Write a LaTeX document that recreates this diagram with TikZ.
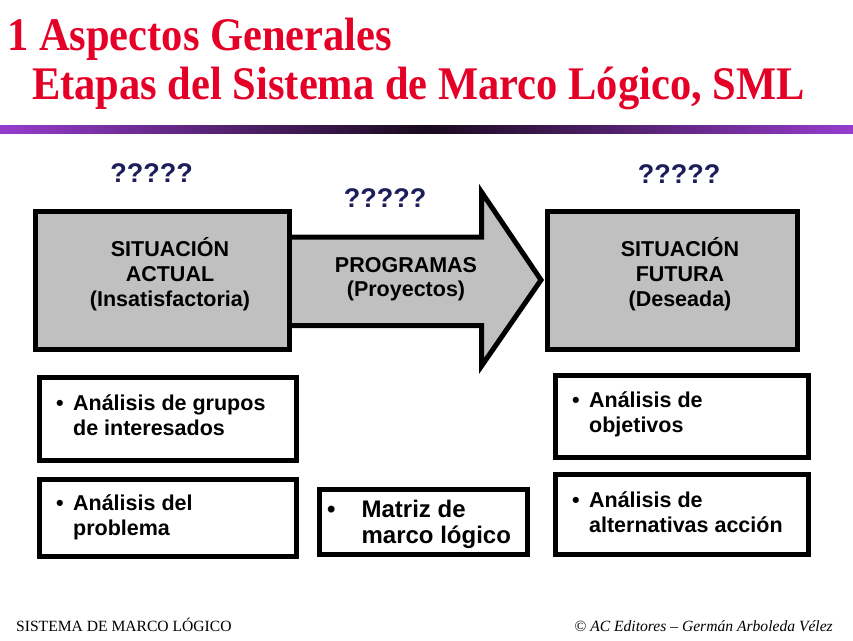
\documentclass[tikz,border=0pt]{standalone}
\usepackage{fontspec}
\setmainfont{Liberation Serif}
\setsansfont{Liberation Sans}
\usepackage{graphicx}

\definecolor{rojotit}{RGB}{228,0,38}
\definecolor{lila}{RGB}{150,60,205}
\definecolor{lilaosc}{RGB}{25,10,30}
\definecolor{gris}{RGB}{192,192,192}
\definecolor{azulq}{RGB}{28,30,90}

\newcommand{\vineta}[3][9.4pt]{%
  \begin{tabular}[t]{@{}l@{\hspace{#1}}l@{}}\textbullet & #2\\ & #3\end{tabular}}

\tikzset{
  caja gris/.style={draw, line width=5pt, fill=gris, inner sep=0pt},
  caja blanca/.style={draw, line width=5pt, fill=white, inner sep=0pt},
  texto caja/.style={font=\sffamily\bfseries\fontsize{21.5}{25}\selectfont, align=center, inner sep=0pt},
  texto lista/.style={font=\sffamily\bfseries\fontsize{21.5}{25}\selectfont, anchor=base west, inner sep=0pt},
  interrog/.style={font=\sffamily\bfseries\fontsize{27}{27}\selectfont, text=azulq, anchor=base, inner sep=0pt},
  titulo/.style={font=\bfseries\fontsize{42.5}{42.5}\selectfont, text=rojotit, anchor=base west, inner sep=0pt},
  pie/.style={font=\fontsize{15.6}{15.6}\selectfont, inner sep=0pt}
}

\begin{document}
\begin{tikzpicture}[x=1pt, y=-1pt, line join=miter]
  \useasboundingbox (0,0) rectangle (853,640);

  % titulo
  \node[titulo] (tit1) at (7,50) {\scalebox{1}[1.1]{1 Aspectos Generales}};
  \node[titulo] (tit2) at (32,99) {\scalebox{1}[1.1]{Etapas del Sistema de Marco Lógico, SML}};
  \shade[left color=lila, right color=lila, middle color=lilaosc] (0,125) rectangle (853,133);

  % flecha de programas
  \draw[line width=5pt, fill=gris] (289,237) -- (481.5,237) -- (481.5,192) -- (541,280)
    -- (481.5,366) -- (481.5,325.5) -- (289,325.5) -- cycle;
  \node[texto caja, font=\sffamily\bfseries\fontsize{21.5}{24}\selectfont] (prog) at (406,279)
    {PROGRAMAS\\(Proyectos)};

  % situaciones
  \node[caja gris, minimum width=254pt, minimum height=138pt] (actual) at (162.5,280) {};
  \node[texto caja] (actualtxt) at (170,274.5) {SITUACIÓN\\ACTUAL\\(Insatisfactoria)};
  \node[caja gris, minimum width=250pt, minimum height=138pt] (futura) at (672.5,280.5) {};
  \node[texto caja] (futuratxt) at (680,274.5) {SITUACIÓN\\FUTURA\\(Deseada)};

  \node[interrog] (qa) at (151.5,182) {?????};
  \node[interrog] (qp) at (385,207) {?????};
  \node[interrog] (qf) at (679,183) {?????};

  % etapas
  \node[caja blanca, minimum width=257pt, minimum height=83pt] (grupos) at (168,419) {};
  \node[texto lista] (grupostxt) at (56,410) {\vineta{Análisis de grupos}{de interesados}};
  \node[caja blanca, minimum width=257pt, minimum height=77pt] (problema) at (168,518) {};
  \node[texto lista] (problematxt) at (56,510) {\vineta{Análisis del}{problema}};

  \node[caja blanca, minimum width=208pt, minimum height=65pt] (matriz) at (423.5,522) {};
  \node[texto lista, font=\sffamily\bfseries\fontsize{24}{26}\selectfont] (matriztxt) at (327,517)
    {\vineta[26pt]{Matriz de}{marco lógico}};

  \node[caja blanca, minimum width=253pt, minimum height=82pt] (objetivos) at (682,416.5) {};
  \node[texto lista] (objetivostxt) at (572,407) {\vineta{Análisis de}{objetivos}};
  \node[caja blanca, minimum width=253pt, minimum height=80pt] (alternativas) at (682,514.5) {};
  \node[texto lista] (alternativastxt) at (572,507) {\vineta{Análisis de}{alternativas acción}};

  % pie
  \node[pie, anchor=base west] (pie1) at (16,631) {SISTEMA DE MARCO LÓGICO};
  \node[pie, anchor=base east] (pie2) at (833,631) {© \textit{AC Editores – Germán Arboleda Vélez}};
\end{tikzpicture}
\end{document}
